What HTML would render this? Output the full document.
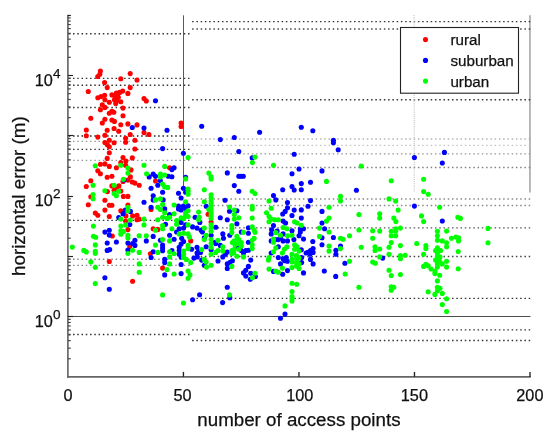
<!DOCTYPE html>
<html><head><meta charset="utf-8"><title>horizontal error vs number of access points</title>
<style>html,body{margin:0;padding:0;background:#fff}svg{display:block}text{font-family:"Liberation Sans",Arial,sans-serif;fill:#111;stroke:#111;stroke-width:0.25px}</style></head><body>
<svg width="550" height="438" viewBox="0 0 550 438">
<rect width="550" height="438" fill="#fff"/>
<line x1="529.95" y1="15.2" x2="529.95" y2="192.5" stroke="#b0b0b0" stroke-width="1.8"/>
<g>
<line x1="68.75" y1="33.7" x2="189.7" y2="33.7" stroke="#333" stroke-width="1.35" stroke-dasharray="1.5 2.76"/>
<line x1="68.75" y1="78.4" x2="189.7" y2="78.4" stroke="#333" stroke-width="1.35" stroke-dasharray="1.5 2.76"/>
<line x1="68.75" y1="85.2" x2="189.7" y2="85.2" stroke="#333" stroke-width="1.35" stroke-dasharray="1.5 2.76"/>
<line x1="68.75" y1="107.5" x2="189.7" y2="107.5" stroke="#333" stroke-width="1.35" stroke-dasharray="1.5 2.76"/>
<line x1="68.75" y1="136.0" x2="189.7" y2="136.0" stroke="#222" stroke-width="1.35" stroke-dasharray="1.5 2.76"/>
<line x1="68.75" y1="141.3" x2="189.7" y2="141.3" stroke="#999" stroke-width="1.35" stroke-dasharray="1.5 2.76"/>
<line x1="68.75" y1="149.4" x2="189.7" y2="149.4" stroke="#333" stroke-width="1.35" stroke-dasharray="1.5 2.76"/>
<line x1="68.75" y1="160.3" x2="189.7" y2="160.3" stroke="#999" stroke-width="1.35" stroke-dasharray="1.5 2.76"/>
<line x1="68.75" y1="220.4" x2="189.7" y2="220.4" stroke="#333" stroke-width="1.35" stroke-dasharray="1.5 2.76"/>
<line x1="68.75" y1="259.2" x2="189.7" y2="259.2" stroke="#858585" stroke-width="1.35" stroke-dasharray="1.5 2.76"/>
<line x1="68.75" y1="265.4" x2="189.7" y2="265.4" stroke="#858585" stroke-width="1.35" stroke-dasharray="1.5 2.76"/>
<line x1="68.75" y1="334.5" x2="189.7" y2="334.5" stroke="#333" stroke-width="1.35" stroke-dasharray="1.5 2.76"/>
<line x1="192.15" y1="21.6" x2="530.8" y2="21.6" stroke="#333" stroke-width="1.35" stroke-dasharray="1.5 2.76"/>
<line x1="192.15" y1="29.0" x2="530.8" y2="29.0" stroke="#444" stroke-width="1.35" stroke-dasharray="1.5 2.76"/>
<line x1="192.15" y1="99.7" x2="530.8" y2="99.7" stroke="#333" stroke-width="1.35" stroke-dasharray="1.5 2.76"/>
<line x1="192.15" y1="139.0" x2="530.8" y2="139.0" stroke="#b4b4b4" stroke-width="1.35" stroke-dasharray="1.5 2.76"/>
<line x1="192.15" y1="145.3" x2="530.8" y2="145.3" stroke="#c4c4c4" stroke-width="1.35" stroke-dasharray="1.5 2.76"/>
<line x1="192.15" y1="153.9" x2="530.8" y2="153.9" stroke="#949494" stroke-width="1.35" stroke-dasharray="1.5 2.76"/>
<line x1="192.15" y1="167.5" x2="530.8" y2="167.5" stroke="#808080" stroke-width="1.35" stroke-dasharray="1.5 2.76"/>
<line x1="192.15" y1="199.0" x2="530.8" y2="199.0" stroke="#888" stroke-width="1.35" stroke-dasharray="1.5 2.76"/>
<line x1="192.15" y1="205.5" x2="530.8" y2="205.5" stroke="#888" stroke-width="1.35" stroke-dasharray="1.5 2.76"/>
<line x1="192.15" y1="227.8" x2="530.8" y2="227.8" stroke="#555" stroke-width="1.35" stroke-dasharray="1.5 2.76"/>
<line x1="192.15" y1="256.5" x2="530.8" y2="256.5" stroke="#444" stroke-width="1.35" stroke-dasharray="1.5 2.76"/>
<line x1="192.15" y1="298.4" x2="530.8" y2="298.4" stroke="#333" stroke-width="1.35" stroke-dasharray="1.5 2.76"/>
<line x1="192.15" y1="329.8" x2="530.8" y2="329.8" stroke="#333" stroke-width="1.35" stroke-dasharray="1.5 2.76"/>
<line x1="192.15" y1="340.5" x2="530.8" y2="340.5" stroke="#333" stroke-width="1.35" stroke-dasharray="1.5 2.76"/>
</g>
<line x1="183.5" y1="15.3" x2="183.5" y2="186" stroke="#525252" stroke-width="0.95"/>
<line x1="414.2" y1="15" x2="414.2" y2="192" stroke="#c4c4c4" stroke-width="1.1" stroke-dasharray="1.1 1"/>
<line x1="67.9" y1="316.5" x2="530.5" y2="316.5" stroke="#4c4c4c" stroke-width="1.15"/>
<g fill="#ff0000">
<circle cx="100.4" cy="71.0" r="2.55"/>
<circle cx="99.8" cy="74.2" r="2.55"/>
<circle cx="97.8" cy="76.5" r="2.55"/>
<circle cx="130.2" cy="73.6" r="2.55"/>
<circle cx="120.8" cy="78.7" r="2.55"/>
<circle cx="104.6" cy="82.5" r="2.55"/>
<circle cx="107.2" cy="87.6" r="2.55"/>
<circle cx="130.2" cy="87.6" r="2.55"/>
<circle cx="88.3" cy="91.5" r="2.55"/>
<circle cx="127.9" cy="93.4" r="2.55"/>
<circle cx="122.7" cy="91.1" r="2.55"/>
<circle cx="119.6" cy="92.4" r="2.55"/>
<circle cx="116.4" cy="93.1" r="2.55"/>
<circle cx="111.9" cy="94.9" r="2.55"/>
<circle cx="115.1" cy="96.6" r="2.55"/>
<circle cx="118.3" cy="97.2" r="2.55"/>
<circle cx="104.6" cy="95.3" r="2.55"/>
<circle cx="101.0" cy="96.6" r="2.55"/>
<circle cx="97.8" cy="97.8" r="2.55"/>
<circle cx="104.9" cy="99.8" r="2.55"/>
<circle cx="114.4" cy="99.8" r="2.55"/>
<circle cx="120.8" cy="101.7" r="2.55"/>
<circle cx="109.3" cy="102.3" r="2.55"/>
<circle cx="115.7" cy="103.6" r="2.55"/>
<circle cx="117.6" cy="94.7" r="2.55"/>
<circle cx="117.0" cy="100.4" r="2.55"/>
<circle cx="102.3" cy="104.9" r="2.55"/>
<circle cx="104.9" cy="107.4" r="2.55"/>
<circle cx="123.0" cy="108.1" r="2.55"/>
<circle cx="100.4" cy="109.7" r="2.55"/>
<circle cx="111.9" cy="111.3" r="2.55"/>
<circle cx="109.3" cy="113.2" r="2.55"/>
<circle cx="113.8" cy="112.3" r="2.55"/>
<circle cx="123.0" cy="115.7" r="2.55"/>
<circle cx="90.8" cy="118.3" r="2.55"/>
<circle cx="104.9" cy="119.2" r="2.55"/>
<circle cx="111.9" cy="120.1" r="2.55"/>
<circle cx="114.4" cy="121.4" r="2.55"/>
<circle cx="102.3" cy="123.0" r="2.55"/>
<circle cx="120.8" cy="124.7" r="2.55"/>
<circle cx="127.9" cy="123.9" r="2.55"/>
<circle cx="86.3" cy="130.0" r="2.55"/>
<circle cx="107.2" cy="130.3" r="2.55"/>
<circle cx="114.1" cy="128.5" r="2.55"/>
<circle cx="118.7" cy="131.3" r="2.55"/>
<circle cx="86.3" cy="135.8" r="2.55"/>
<circle cx="97.8" cy="137.1" r="2.55"/>
<circle cx="104.9" cy="135.2" r="2.55"/>
<circle cx="130.2" cy="134.5" r="2.55"/>
<circle cx="125.6" cy="138.3" r="2.55"/>
<circle cx="109.3" cy="140.3" r="2.55"/>
<circle cx="104.9" cy="142.6" r="2.55"/>
<circle cx="114.1" cy="142.8" r="2.55"/>
<circle cx="125.6" cy="142.2" r="2.55"/>
<circle cx="107.4" cy="144.7" r="2.55"/>
<circle cx="109.3" cy="146.7" r="2.55"/>
<circle cx="134.9" cy="140.3" r="2.55"/>
<circle cx="134.9" cy="149.0" r="2.55"/>
<circle cx="109.3" cy="152.8" r="2.55"/>
<circle cx="107.2" cy="158.4" r="2.55"/>
<circle cx="123.0" cy="157.5" r="2.55"/>
<circle cx="132.3" cy="157.9" r="2.55"/>
<circle cx="125.9" cy="161.0" r="2.55"/>
<circle cx="120.8" cy="162.6" r="2.55"/>
<circle cx="100.4" cy="164.3" r="2.55"/>
<circle cx="104.9" cy="163.9" r="2.55"/>
<circle cx="109.3" cy="166.4" r="2.55"/>
<circle cx="116.4" cy="167.7" r="2.55"/>
<circle cx="125.6" cy="165.2" r="2.55"/>
<circle cx="97.8" cy="170.8" r="2.55"/>
<circle cx="100.4" cy="173.7" r="2.55"/>
<circle cx="131.0" cy="169.9" r="2.55"/>
<circle cx="107.2" cy="177.2" r="2.55"/>
<circle cx="111.9" cy="176.3" r="2.55"/>
<circle cx="130.4" cy="176.9" r="2.55"/>
<circle cx="123.0" cy="181.4" r="2.55"/>
<circle cx="127.9" cy="180.1" r="2.55"/>
<circle cx="132.3" cy="182.0" r="2.55"/>
<circle cx="90.8" cy="180.8" r="2.55"/>
<circle cx="86.3" cy="186.5" r="2.55"/>
<circle cx="111.9" cy="185.9" r="2.55"/>
<circle cx="118.9" cy="185.9" r="2.55"/>
<circle cx="116.4" cy="188.4" r="2.55"/>
<circle cx="107.4" cy="191.6" r="2.55"/>
<circle cx="114.1" cy="190.3" r="2.55"/>
<circle cx="120.8" cy="191.0" r="2.55"/>
<circle cx="90.8" cy="196.7" r="2.55"/>
<circle cx="123.4" cy="196.4" r="2.55"/>
<circle cx="127.9" cy="196.4" r="2.55"/>
<circle cx="104.9" cy="200.2" r="2.55"/>
<circle cx="88.3" cy="204.8" r="2.55"/>
<circle cx="109.3" cy="205.3" r="2.55"/>
<circle cx="111.9" cy="205.3" r="2.55"/>
<circle cx="127.9" cy="205.0" r="2.55"/>
<circle cx="104.9" cy="210.1" r="2.55"/>
<circle cx="120.8" cy="210.8" r="2.55"/>
<circle cx="95.3" cy="213.0" r="2.55"/>
<circle cx="97.8" cy="215.3" r="2.55"/>
<circle cx="109.3" cy="216.5" r="2.55"/>
<circle cx="125.9" cy="215.9" r="2.55"/>
<circle cx="132.6" cy="215.9" r="2.55"/>
<circle cx="125.6" cy="221.0" r="2.55"/>
<circle cx="127.9" cy="229.6" r="2.55"/>
<circle cx="112.3" cy="236.0" r="2.55"/>
<circle cx="129.8" cy="246.6" r="2.55"/>
<circle cx="109.3" cy="261.5" r="2.55"/>
<circle cx="132.6" cy="281.2" r="2.55"/>
<circle cx="137.0" cy="80.0" r="2.55"/>
<circle cx="144.0" cy="98.5" r="2.55"/>
<circle cx="146.3" cy="101.0" r="2.55"/>
<circle cx="137.0" cy="124.9" r="2.55"/>
<circle cx="144.0" cy="132.6" r="2.55"/>
<circle cx="148.9" cy="134.5" r="2.55"/>
<circle cx="181.1" cy="123.0" r="2.55"/>
<circle cx="181.1" cy="126.5" r="2.55"/>
<circle cx="169.6" cy="167.7" r="2.55"/>
<circle cx="134.9" cy="183.1" r="2.55"/>
<circle cx="139.2" cy="185.2" r="2.55"/>
<circle cx="155.5" cy="181.0" r="2.55"/>
<circle cx="151.1" cy="209.5" r="2.55"/>
<circle cx="137.0" cy="215.3" r="2.55"/>
<circle cx="139.2" cy="219.1" r="2.55"/>
<circle cx="137.0" cy="219.7" r="2.55"/>
<circle cx="153.2" cy="228.8" r="2.55"/>
<circle cx="157.8" cy="229.4" r="2.55"/>
<circle cx="190.7" cy="240.9" r="2.55"/>
<circle cx="150.4" cy="253.7" r="2.55"/>
<circle cx="162.6" cy="268.1" r="2.55"/>
<circle cx="208.1" cy="214.2" r="2.55"/>
<circle cx="211.1" cy="222.1" r="2.55"/>
</g>
<g fill="#0000ff">
<circle cx="132.3" cy="127.5" r="2.55"/>
<circle cx="124.0" cy="180.1" r="2.55"/>
<circle cx="125.3" cy="210.1" r="2.55"/>
<circle cx="130.4" cy="211.4" r="2.55"/>
<circle cx="123.0" cy="213.7" r="2.55"/>
<circle cx="118.7" cy="217.6" r="2.55"/>
<circle cx="129.8" cy="224.5" r="2.55"/>
<circle cx="109.3" cy="230.2" r="2.55"/>
<circle cx="104.9" cy="232.1" r="2.55"/>
<circle cx="109.3" cy="235.1" r="2.55"/>
<circle cx="107.2" cy="243.0" r="2.55"/>
<circle cx="116.4" cy="242.0" r="2.55"/>
<circle cx="127.9" cy="243.0" r="2.55"/>
<circle cx="134.9" cy="240.3" r="2.55"/>
<circle cx="132.6" cy="243.5" r="2.55"/>
<circle cx="107.2" cy="250.4" r="2.55"/>
<circle cx="109.7" cy="249.6" r="2.55"/>
<circle cx="127.9" cy="250.0" r="2.55"/>
<circle cx="104.9" cy="277.7" r="2.55"/>
<circle cx="109.3" cy="289.2" r="2.55"/>
<circle cx="155.5" cy="100.8" r="2.55"/>
<circle cx="144.0" cy="128.1" r="2.55"/>
<circle cx="167.0" cy="130.3" r="2.55"/>
<circle cx="162.6" cy="148.6" r="2.55"/>
<circle cx="183.4" cy="153.3" r="2.55"/>
<circle cx="174.1" cy="167.7" r="2.55"/>
<circle cx="171.9" cy="169.6" r="2.55"/>
<circle cx="153.2" cy="174.1" r="2.55"/>
<circle cx="149.2" cy="176.9" r="2.55"/>
<circle cx="155.5" cy="176.3" r="2.55"/>
<circle cx="168.3" cy="176.3" r="2.55"/>
<circle cx="171.9" cy="176.7" r="2.55"/>
<circle cx="185.6" cy="177.2" r="2.55"/>
<circle cx="160.4" cy="180.8" r="2.55"/>
<circle cx="157.8" cy="185.2" r="2.55"/>
<circle cx="151.1" cy="188.2" r="2.55"/>
<circle cx="183.4" cy="188.2" r="2.55"/>
<circle cx="185.6" cy="192.3" r="2.55"/>
<circle cx="162.6" cy="192.3" r="2.55"/>
<circle cx="178.5" cy="193.3" r="2.55"/>
<circle cx="181.1" cy="198.0" r="2.55"/>
<circle cx="153.2" cy="195.8" r="2.55"/>
<circle cx="153.2" cy="199.9" r="2.55"/>
<circle cx="163.2" cy="199.9" r="2.55"/>
<circle cx="144.0" cy="202.2" r="2.55"/>
<circle cx="178.5" cy="206.1" r="2.55"/>
<circle cx="183.4" cy="206.1" r="2.55"/>
<circle cx="188.1" cy="205.7" r="2.55"/>
<circle cx="151.1" cy="207.3" r="2.55"/>
<circle cx="164.7" cy="208.9" r="2.55"/>
<circle cx="178.5" cy="208.9" r="2.55"/>
<circle cx="181.1" cy="209.9" r="2.55"/>
<circle cx="185.6" cy="208.9" r="2.55"/>
<circle cx="169.6" cy="214.6" r="2.55"/>
<circle cx="195.1" cy="217.2" r="2.55"/>
<circle cx="165.5" cy="224.3" r="2.55"/>
<circle cx="181.1" cy="222.4" r="2.55"/>
<circle cx="185.6" cy="224.9" r="2.55"/>
<circle cx="192.6" cy="226.9" r="2.55"/>
<circle cx="197.0" cy="228.1" r="2.55"/>
<circle cx="179.2" cy="228.8" r="2.55"/>
<circle cx="183.6" cy="228.1" r="2.55"/>
<circle cx="176.6" cy="232.0" r="2.55"/>
<circle cx="153.2" cy="236.4" r="2.55"/>
<circle cx="146.3" cy="240.9" r="2.55"/>
<circle cx="169.6" cy="235.2" r="2.55"/>
<circle cx="174.1" cy="239.2" r="2.55"/>
<circle cx="160.4" cy="240.3" r="2.55"/>
<circle cx="134.9" cy="245.4" r="2.55"/>
<circle cx="162.6" cy="245.1" r="2.55"/>
<circle cx="162.6" cy="247.9" r="2.55"/>
<circle cx="162.6" cy="250.7" r="2.55"/>
<circle cx="153.2" cy="251.8" r="2.55"/>
<circle cx="151.1" cy="257.5" r="2.55"/>
<circle cx="171.9" cy="250.5" r="2.55"/>
<circle cx="164.7" cy="259.4" r="2.55"/>
<circle cx="164.7" cy="262.6" r="2.55"/>
<circle cx="181.7" cy="238.3" r="2.55"/>
<circle cx="183.6" cy="241.5" r="2.55"/>
<circle cx="181.1" cy="244.1" r="2.55"/>
<circle cx="179.2" cy="247.3" r="2.55"/>
<circle cx="179.2" cy="250.5" r="2.55"/>
<circle cx="179.2" cy="254.3" r="2.55"/>
<circle cx="181.1" cy="256.9" r="2.55"/>
<circle cx="181.1" cy="264.5" r="2.55"/>
<circle cx="191.6" cy="249.2" r="2.55"/>
<circle cx="193.9" cy="258.1" r="2.55"/>
<circle cx="197.0" cy="247.3" r="2.55"/>
<circle cx="197.0" cy="253.0" r="2.55"/>
<circle cx="197.3" cy="256.9" r="2.55"/>
<circle cx="164.7" cy="274.9" r="2.55"/>
<circle cx="181.1" cy="273.6" r="2.55"/>
<circle cx="192.6" cy="299.8" r="2.55"/>
<circle cx="199.6" cy="294.7" r="2.55"/>
<circle cx="201.7" cy="126.2" r="2.55"/>
<circle cx="220.3" cy="139.6" r="2.55"/>
<circle cx="234.3" cy="137.5" r="2.55"/>
<circle cx="259.6" cy="132.3" r="2.55"/>
<circle cx="238.8" cy="151.5" r="2.55"/>
<circle cx="252.2" cy="157.9" r="2.55"/>
<circle cx="227.3" cy="172.9" r="2.55"/>
<circle cx="238.8" cy="176.3" r="2.55"/>
<circle cx="241.0" cy="176.3" r="2.55"/>
<circle cx="243.3" cy="176.3" r="2.55"/>
<circle cx="234.3" cy="185.6" r="2.55"/>
<circle cx="238.8" cy="191.2" r="2.55"/>
<circle cx="225.1" cy="200.2" r="2.55"/>
<circle cx="206.2" cy="206.3" r="2.55"/>
<circle cx="229.5" cy="211.2" r="2.55"/>
<circle cx="236.9" cy="210.8" r="2.55"/>
<circle cx="220.3" cy="217.8" r="2.55"/>
<circle cx="227.3" cy="219.7" r="2.55"/>
<circle cx="199.8" cy="222.4" r="2.55"/>
<circle cx="211.1" cy="235.2" r="2.55"/>
<circle cx="211.1" cy="249.8" r="2.55"/>
<circle cx="236.9" cy="223.7" r="2.55"/>
<circle cx="229.8" cy="235.2" r="2.55"/>
<circle cx="215.8" cy="227.2" r="2.55"/>
<circle cx="202.4" cy="232.0" r="2.55"/>
<circle cx="204.3" cy="237.7" r="2.55"/>
<circle cx="222.8" cy="233.9" r="2.55"/>
<circle cx="223.5" cy="238.3" r="2.55"/>
<circle cx="215.8" cy="243.5" r="2.55"/>
<circle cx="206.2" cy="246.7" r="2.55"/>
<circle cx="198.6" cy="251.1" r="2.55"/>
<circle cx="201.7" cy="260.1" r="2.55"/>
<circle cx="204.3" cy="265.2" r="2.55"/>
<circle cx="218.0" cy="261.0" r="2.55"/>
<circle cx="222.8" cy="256.9" r="2.55"/>
<circle cx="227.3" cy="252.0" r="2.55"/>
<circle cx="243.5" cy="253.0" r="2.55"/>
<circle cx="241.3" cy="250.5" r="2.55"/>
<circle cx="245.8" cy="250.5" r="2.55"/>
<circle cx="248.4" cy="250.2" r="2.55"/>
<circle cx="236.9" cy="246.7" r="2.55"/>
<circle cx="241.3" cy="232.0" r="2.55"/>
<circle cx="248.4" cy="227.7" r="2.55"/>
<circle cx="248.4" cy="233.2" r="2.55"/>
<circle cx="248.4" cy="242.2" r="2.55"/>
<circle cx="250.7" cy="260.1" r="2.55"/>
<circle cx="232.4" cy="260.7" r="2.55"/>
<circle cx="229.8" cy="262.6" r="2.55"/>
<circle cx="227.3" cy="263.9" r="2.55"/>
<circle cx="227.3" cy="268.4" r="2.55"/>
<circle cx="248.4" cy="266.4" r="2.55"/>
<circle cx="245.8" cy="270.3" r="2.55"/>
<circle cx="201.1" cy="230.3" r="2.55"/>
<circle cx="215.2" cy="242.2" r="2.55"/>
<circle cx="220.3" cy="245.4" r="2.55"/>
<circle cx="200.5" cy="252.4" r="2.55"/>
<circle cx="225.4" cy="254.3" r="2.55"/>
<circle cx="243.5" cy="272.9" r="2.55"/>
<circle cx="245.8" cy="276.1" r="2.55"/>
<circle cx="250.7" cy="273.2" r="2.55"/>
<circle cx="255.4" cy="276.5" r="2.55"/>
<circle cx="250.3" cy="279.3" r="2.55"/>
<circle cx="227.3" cy="287.2" r="2.55"/>
<circle cx="229.8" cy="297.8" r="2.55"/>
<circle cx="222.6" cy="302.6" r="2.55"/>
<circle cx="301.3" cy="127.2" r="2.55"/>
<circle cx="312.8" cy="130.7" r="2.55"/>
<circle cx="333.4" cy="140.3" r="2.55"/>
<circle cx="294.2" cy="154.3" r="2.55"/>
<circle cx="299.0" cy="169.0" r="2.55"/>
<circle cx="322.0" cy="170.9" r="2.55"/>
<circle cx="292.0" cy="173.7" r="2.55"/>
<circle cx="310.5" cy="182.3" r="2.55"/>
<circle cx="301.3" cy="183.6" r="2.55"/>
<circle cx="292.0" cy="186.5" r="2.55"/>
<circle cx="294.2" cy="190.0" r="2.55"/>
<circle cx="301.3" cy="189.7" r="2.55"/>
<circle cx="282.7" cy="189.7" r="2.55"/>
<circle cx="273.5" cy="195.5" r="2.55"/>
<circle cx="275.8" cy="199.9" r="2.55"/>
<circle cx="310.5" cy="200.6" r="2.55"/>
<circle cx="287.5" cy="202.5" r="2.55"/>
<circle cx="308.0" cy="206.3" r="2.55"/>
<circle cx="287.5" cy="207.8" r="2.55"/>
<circle cx="294.2" cy="210.1" r="2.55"/>
<circle cx="301.3" cy="209.9" r="2.55"/>
<circle cx="285.2" cy="211.4" r="2.55"/>
<circle cx="282.7" cy="214.0" r="2.55"/>
<circle cx="322.0" cy="211.4" r="2.55"/>
<circle cx="292.0" cy="215.5" r="2.55"/>
<circle cx="301.3" cy="218.1" r="2.55"/>
<circle cx="283.1" cy="221.1" r="2.55"/>
<circle cx="285.6" cy="223.0" r="2.55"/>
<circle cx="273.5" cy="225.6" r="2.55"/>
<circle cx="292.0" cy="230.7" r="2.55"/>
<circle cx="303.5" cy="228.8" r="2.55"/>
<circle cx="300.3" cy="232.0" r="2.55"/>
<circle cx="271.2" cy="233.9" r="2.55"/>
<circle cx="283.1" cy="233.9" r="2.55"/>
<circle cx="299.0" cy="235.8" r="2.55"/>
<circle cx="303.5" cy="239.0" r="2.55"/>
<circle cx="271.2" cy="240.9" r="2.55"/>
<circle cx="278.3" cy="239.6" r="2.55"/>
<circle cx="283.1" cy="240.9" r="2.55"/>
<circle cx="287.5" cy="240.9" r="2.55"/>
<circle cx="293.9" cy="239.6" r="2.55"/>
<circle cx="278.3" cy="246.7" r="2.55"/>
<circle cx="301.3" cy="249.8" r="2.55"/>
<circle cx="271.2" cy="253.0" r="2.55"/>
<circle cx="278.3" cy="257.5" r="2.55"/>
<circle cx="283.1" cy="258.8" r="2.55"/>
<circle cx="286.3" cy="257.5" r="2.55"/>
<circle cx="287.5" cy="261.3" r="2.55"/>
<circle cx="301.6" cy="257.5" r="2.55"/>
<circle cx="301.6" cy="262.6" r="2.55"/>
<circle cx="280.5" cy="263.9" r="2.55"/>
<circle cx="306.1" cy="253.0" r="2.55"/>
<circle cx="310.5" cy="250.5" r="2.55"/>
<circle cx="313.1" cy="248.6" r="2.55"/>
<circle cx="313.1" cy="252.4" r="2.55"/>
<circle cx="310.5" cy="259.4" r="2.55"/>
<circle cx="313.1" cy="263.9" r="2.55"/>
<circle cx="312.8" cy="241.5" r="2.55"/>
<circle cx="322.0" cy="223.0" r="2.55"/>
<circle cx="324.6" cy="228.8" r="2.55"/>
<circle cx="322.0" cy="237.7" r="2.55"/>
<circle cx="322.0" cy="244.7" r="2.55"/>
<circle cx="333.4" cy="237.5" r="2.55"/>
<circle cx="271.6" cy="229.8" r="2.55"/>
<circle cx="277.1" cy="231.1" r="2.55"/>
<circle cx="280.5" cy="238.0" r="2.55"/>
<circle cx="275.4" cy="239.6" r="2.55"/>
<circle cx="284.7" cy="260.7" r="2.55"/>
<circle cx="300.3" cy="228.8" r="2.55"/>
<circle cx="308.0" cy="252.4" r="2.55"/>
<circle cx="309.9" cy="254.3" r="2.55"/>
<circle cx="273.5" cy="271.4" r="2.55"/>
<circle cx="282.7" cy="274.2" r="2.55"/>
<circle cx="287.5" cy="270.6" r="2.55"/>
<circle cx="303.5" cy="272.9" r="2.55"/>
<circle cx="324.3" cy="271.0" r="2.55"/>
<circle cx="285.0" cy="314.1" r="2.55"/>
<circle cx="280.5" cy="318.3" r="2.55"/>
<circle cx="333.4" cy="142.8" r="2.55"/>
<circle cx="338.2" cy="149.8" r="2.55"/>
<circle cx="356.4" cy="190.3" r="2.55"/>
<circle cx="340.5" cy="246.0" r="2.55"/>
<circle cx="335.9" cy="250.2" r="2.55"/>
<circle cx="335.9" cy="254.3" r="2.55"/>
<circle cx="382.7" cy="258.1" r="2.55"/>
<circle cx="344.9" cy="263.3" r="2.55"/>
<circle cx="335.7" cy="276.4" r="2.55"/>
<circle cx="414.4" cy="157.5" r="2.55"/>
<circle cx="444.4" cy="152.4" r="2.55"/>
<circle cx="442.3" cy="163.0" r="2.55"/>
<circle cx="414.4" cy="206.1" r="2.55"/>
<circle cx="442.3" cy="221.0" r="2.55"/>
</g>
<g fill="#00ff00">
<circle cx="95.3" cy="165.8" r="2.55"/>
<circle cx="120.8" cy="165.2" r="2.55"/>
<circle cx="127.9" cy="168.1" r="2.55"/>
<circle cx="127.9" cy="173.1" r="2.55"/>
<circle cx="123.4" cy="179.2" r="2.55"/>
<circle cx="93.1" cy="185.2" r="2.55"/>
<circle cx="114.1" cy="185.2" r="2.55"/>
<circle cx="104.9" cy="190.7" r="2.55"/>
<circle cx="118.7" cy="191.2" r="2.55"/>
<circle cx="114.1" cy="193.5" r="2.55"/>
<circle cx="116.4" cy="195.8" r="2.55"/>
<circle cx="93.1" cy="194.6" r="2.55"/>
<circle cx="93.1" cy="198.7" r="2.55"/>
<circle cx="127.9" cy="207.3" r="2.55"/>
<circle cx="127.9" cy="210.8" r="2.55"/>
<circle cx="120.8" cy="219.1" r="2.55"/>
<circle cx="130.2" cy="220.1" r="2.55"/>
<circle cx="93.4" cy="226.1" r="2.55"/>
<circle cx="120.8" cy="226.1" r="2.55"/>
<circle cx="125.6" cy="224.9" r="2.55"/>
<circle cx="120.8" cy="230.9" r="2.55"/>
<circle cx="123.4" cy="231.5" r="2.55"/>
<circle cx="120.8" cy="234.3" r="2.55"/>
<circle cx="93.4" cy="236.3" r="2.55"/>
<circle cx="95.7" cy="237.2" r="2.55"/>
<circle cx="127.9" cy="235.3" r="2.55"/>
<circle cx="127.9" cy="237.9" r="2.55"/>
<circle cx="95.3" cy="244.9" r="2.55"/>
<circle cx="72.3" cy="247.1" r="2.55"/>
<circle cx="83.8" cy="250.4" r="2.55"/>
<circle cx="86.3" cy="251.9" r="2.55"/>
<circle cx="95.3" cy="251.3" r="2.55"/>
<circle cx="95.3" cy="253.5" r="2.55"/>
<circle cx="132.6" cy="250.2" r="2.55"/>
<circle cx="127.9" cy="253.5" r="2.55"/>
<circle cx="90.8" cy="261.9" r="2.55"/>
<circle cx="95.3" cy="267.3" r="2.55"/>
<circle cx="95.3" cy="283.5" r="2.55"/>
<circle cx="188.1" cy="157.5" r="2.55"/>
<circle cx="144.0" cy="165.2" r="2.55"/>
<circle cx="164.7" cy="166.4" r="2.55"/>
<circle cx="146.6" cy="173.7" r="2.55"/>
<circle cx="160.4" cy="174.1" r="2.55"/>
<circle cx="160.4" cy="176.9" r="2.55"/>
<circle cx="164.7" cy="175.0" r="2.55"/>
<circle cx="185.6" cy="178.9" r="2.55"/>
<circle cx="162.6" cy="184.0" r="2.55"/>
<circle cx="164.7" cy="186.9" r="2.55"/>
<circle cx="167.7" cy="187.4" r="2.55"/>
<circle cx="188.1" cy="189.1" r="2.55"/>
<circle cx="188.1" cy="191.6" r="2.55"/>
<circle cx="188.1" cy="194.2" r="2.55"/>
<circle cx="155.5" cy="199.9" r="2.55"/>
<circle cx="160.4" cy="198.9" r="2.55"/>
<circle cx="185.6" cy="201.8" r="2.55"/>
<circle cx="162.6" cy="204.4" r="2.55"/>
<circle cx="174.1" cy="205.0" r="2.55"/>
<circle cx="157.8" cy="207.3" r="2.55"/>
<circle cx="160.4" cy="209.5" r="2.55"/>
<circle cx="188.1" cy="210.8" r="2.55"/>
<circle cx="164.7" cy="212.7" r="2.55"/>
<circle cx="174.1" cy="213.7" r="2.55"/>
<circle cx="185.6" cy="212.7" r="2.55"/>
<circle cx="185.6" cy="215.3" r="2.55"/>
<circle cx="144.0" cy="219.1" r="2.55"/>
<circle cx="162.6" cy="217.2" r="2.55"/>
<circle cx="169.6" cy="217.2" r="2.55"/>
<circle cx="167.0" cy="218.4" r="2.55"/>
<circle cx="181.1" cy="217.8" r="2.55"/>
<circle cx="188.1" cy="216.5" r="2.55"/>
<circle cx="198.6" cy="212.1" r="2.55"/>
<circle cx="199.2" cy="217.2" r="2.55"/>
<circle cx="157.8" cy="219.8" r="2.55"/>
<circle cx="144.0" cy="224.9" r="2.55"/>
<circle cx="162.6" cy="225.6" r="2.55"/>
<circle cx="162.6" cy="228.8" r="2.55"/>
<circle cx="155.5" cy="230.3" r="2.55"/>
<circle cx="171.9" cy="228.8" r="2.55"/>
<circle cx="176.6" cy="220.5" r="2.55"/>
<circle cx="176.6" cy="224.3" r="2.55"/>
<circle cx="183.6" cy="218.6" r="2.55"/>
<circle cx="188.1" cy="224.9" r="2.55"/>
<circle cx="198.6" cy="219.8" r="2.55"/>
<circle cx="179.2" cy="233.9" r="2.55"/>
<circle cx="183.6" cy="233.2" r="2.55"/>
<circle cx="188.1" cy="233.9" r="2.55"/>
<circle cx="189.4" cy="237.1" r="2.55"/>
<circle cx="139.2" cy="235.8" r="2.55"/>
<circle cx="146.3" cy="235.8" r="2.55"/>
<circle cx="169.6" cy="240.9" r="2.55"/>
<circle cx="162.6" cy="239.6" r="2.55"/>
<circle cx="155.5" cy="245.1" r="2.55"/>
<circle cx="139.2" cy="252.4" r="2.55"/>
<circle cx="157.8" cy="252.4" r="2.55"/>
<circle cx="169.6" cy="251.8" r="2.55"/>
<circle cx="174.1" cy="253.7" r="2.55"/>
<circle cx="169.6" cy="256.9" r="2.55"/>
<circle cx="169.6" cy="263.9" r="2.55"/>
<circle cx="188.1" cy="245.4" r="2.55"/>
<circle cx="188.1" cy="248.6" r="2.55"/>
<circle cx="183.6" cy="251.1" r="2.55"/>
<circle cx="183.6" cy="254.3" r="2.55"/>
<circle cx="183.6" cy="257.5" r="2.55"/>
<circle cx="186.2" cy="259.4" r="2.55"/>
<circle cx="190.7" cy="262.6" r="2.55"/>
<circle cx="139.2" cy="263.9" r="2.55"/>
<circle cx="167.0" cy="269.6" r="2.55"/>
<circle cx="139.2" cy="272.3" r="2.55"/>
<circle cx="174.1" cy="274.0" r="2.55"/>
<circle cx="188.1" cy="271.0" r="2.55"/>
<circle cx="190.0" cy="274.9" r="2.55"/>
<circle cx="188.1" cy="278.3" r="2.55"/>
<circle cx="162.6" cy="294.9" r="2.55"/>
<circle cx="183.4" cy="303.0" r="2.55"/>
<circle cx="255.0" cy="157.1" r="2.55"/>
<circle cx="252.4" cy="162.6" r="2.55"/>
<circle cx="208.8" cy="173.1" r="2.55"/>
<circle cx="211.1" cy="176.9" r="2.55"/>
<circle cx="211.1" cy="178.9" r="2.55"/>
<circle cx="252.2" cy="191.2" r="2.55"/>
<circle cx="255.0" cy="193.5" r="2.55"/>
<circle cx="204.3" cy="189.7" r="2.55"/>
<circle cx="211.1" cy="194.8" r="2.55"/>
<circle cx="211.1" cy="197.8" r="2.55"/>
<circle cx="211.1" cy="200.7" r="2.55"/>
<circle cx="211.1" cy="203.6" r="2.55"/>
<circle cx="211.1" cy="206.6" r="2.55"/>
<circle cx="211.1" cy="209.5" r="2.55"/>
<circle cx="211.1" cy="212.4" r="2.55"/>
<circle cx="211.1" cy="215.4" r="2.55"/>
<circle cx="211.1" cy="218.3" r="2.55"/>
<circle cx="204.3" cy="201.8" r="2.55"/>
<circle cx="208.8" cy="209.5" r="2.55"/>
<circle cx="229.5" cy="207.0" r="2.55"/>
<circle cx="234.3" cy="210.1" r="2.55"/>
<circle cx="234.3" cy="214.6" r="2.55"/>
<circle cx="252.2" cy="206.3" r="2.55"/>
<circle cx="252.2" cy="208.9" r="2.55"/>
<circle cx="266.5" cy="212.7" r="2.55"/>
<circle cx="234.3" cy="219.1" r="2.55"/>
<circle cx="238.8" cy="217.8" r="2.55"/>
<circle cx="252.2" cy="218.1" r="2.55"/>
<circle cx="211.1" cy="224.9" r="2.55"/>
<circle cx="211.1" cy="228.1" r="2.55"/>
<circle cx="211.1" cy="231.3" r="2.55"/>
<circle cx="211.1" cy="239.6" r="2.55"/>
<circle cx="211.1" cy="243.5" r="2.55"/>
<circle cx="211.1" cy="247.3" r="2.55"/>
<circle cx="211.1" cy="254.3" r="2.55"/>
<circle cx="231.8" cy="225.6" r="2.55"/>
<circle cx="231.8" cy="228.8" r="2.55"/>
<circle cx="231.8" cy="232.6" r="2.55"/>
<circle cx="204.3" cy="228.1" r="2.55"/>
<circle cx="206.2" cy="235.2" r="2.55"/>
<circle cx="204.3" cy="239.6" r="2.55"/>
<circle cx="218.0" cy="240.3" r="2.55"/>
<circle cx="222.8" cy="246.7" r="2.55"/>
<circle cx="218.0" cy="250.5" r="2.55"/>
<circle cx="215.8" cy="252.4" r="2.55"/>
<circle cx="222.8" cy="251.1" r="2.55"/>
<circle cx="201.7" cy="249.5" r="2.55"/>
<circle cx="204.3" cy="259.4" r="2.55"/>
<circle cx="206.2" cy="262.0" r="2.55"/>
<circle cx="206.5" cy="267.1" r="2.55"/>
<circle cx="211.1" cy="265.2" r="2.55"/>
<circle cx="231.8" cy="253.7" r="2.55"/>
<circle cx="231.8" cy="250.5" r="2.55"/>
<circle cx="234.3" cy="249.2" r="2.55"/>
<circle cx="236.9" cy="256.2" r="2.55"/>
<circle cx="243.5" cy="256.9" r="2.55"/>
<circle cx="232.4" cy="242.6" r="2.55"/>
<circle cx="234.3" cy="240.9" r="2.55"/>
<circle cx="236.9" cy="236.4" r="2.55"/>
<circle cx="238.8" cy="239.6" r="2.55"/>
<circle cx="241.3" cy="242.6" r="2.55"/>
<circle cx="241.3" cy="246.0" r="2.55"/>
<circle cx="238.8" cy="249.2" r="2.55"/>
<circle cx="243.5" cy="232.3" r="2.55"/>
<circle cx="252.2" cy="226.9" r="2.55"/>
<circle cx="254.1" cy="230.0" r="2.55"/>
<circle cx="255.0" cy="232.3" r="2.55"/>
<circle cx="254.1" cy="238.3" r="2.55"/>
<circle cx="252.2" cy="240.3" r="2.55"/>
<circle cx="252.2" cy="244.7" r="2.55"/>
<circle cx="252.2" cy="248.6" r="2.55"/>
<circle cx="231.8" cy="266.4" r="2.55"/>
<circle cx="235.0" cy="244.7" r="2.55"/>
<circle cx="238.1" cy="243.5" r="2.55"/>
<circle cx="233.7" cy="252.4" r="2.55"/>
<circle cx="255.0" cy="273.2" r="2.55"/>
<circle cx="252.4" cy="277.8" r="2.55"/>
<circle cx="229.5" cy="294.9" r="2.55"/>
<circle cx="273.5" cy="165.2" r="2.55"/>
<circle cx="326.5" cy="181.4" r="2.55"/>
<circle cx="269.0" cy="201.0" r="2.55"/>
<circle cx="271.2" cy="208.2" r="2.55"/>
<circle cx="329.0" cy="207.3" r="2.55"/>
<circle cx="329.0" cy="218.1" r="2.55"/>
<circle cx="269.0" cy="216.5" r="2.55"/>
<circle cx="271.2" cy="219.1" r="2.55"/>
<circle cx="274.8" cy="219.7" r="2.55"/>
<circle cx="278.3" cy="219.7" r="2.55"/>
<circle cx="269.0" cy="221.7" r="2.55"/>
<circle cx="294.6" cy="221.7" r="2.55"/>
<circle cx="297.1" cy="223.0" r="2.55"/>
<circle cx="301.3" cy="225.2" r="2.55"/>
<circle cx="283.1" cy="227.5" r="2.55"/>
<circle cx="286.9" cy="228.8" r="2.55"/>
<circle cx="275.8" cy="232.6" r="2.55"/>
<circle cx="280.5" cy="235.2" r="2.55"/>
<circle cx="287.5" cy="235.8" r="2.55"/>
<circle cx="292.0" cy="235.2" r="2.55"/>
<circle cx="273.5" cy="239.0" r="2.55"/>
<circle cx="273.5" cy="242.2" r="2.55"/>
<circle cx="294.6" cy="244.7" r="2.55"/>
<circle cx="297.1" cy="246.7" r="2.55"/>
<circle cx="275.8" cy="247.9" r="2.55"/>
<circle cx="286.9" cy="246.7" r="2.55"/>
<circle cx="284.3" cy="249.2" r="2.55"/>
<circle cx="294.6" cy="249.2" r="2.55"/>
<circle cx="299.0" cy="251.1" r="2.55"/>
<circle cx="273.5" cy="251.8" r="2.55"/>
<circle cx="282.4" cy="253.0" r="2.55"/>
<circle cx="292.0" cy="254.3" r="2.55"/>
<circle cx="296.5" cy="255.6" r="2.55"/>
<circle cx="269.0" cy="257.5" r="2.55"/>
<circle cx="268.4" cy="260.1" r="2.55"/>
<circle cx="292.0" cy="259.4" r="2.55"/>
<circle cx="296.5" cy="258.8" r="2.55"/>
<circle cx="299.0" cy="258.1" r="2.55"/>
<circle cx="292.0" cy="262.0" r="2.55"/>
<circle cx="296.5" cy="262.6" r="2.55"/>
<circle cx="299.0" cy="263.9" r="2.55"/>
<circle cx="326.5" cy="221.1" r="2.55"/>
<circle cx="319.5" cy="228.1" r="2.55"/>
<circle cx="329.0" cy="232.0" r="2.55"/>
<circle cx="319.5" cy="236.4" r="2.55"/>
<circle cx="329.0" cy="246.0" r="2.55"/>
<circle cx="329.0" cy="251.1" r="2.55"/>
<circle cx="269.0" cy="269.1" r="2.55"/>
<circle cx="275.8" cy="271.0" r="2.55"/>
<circle cx="278.3" cy="272.3" r="2.55"/>
<circle cx="282.4" cy="268.1" r="2.55"/>
<circle cx="292.0" cy="267.6" r="2.55"/>
<circle cx="296.5" cy="265.9" r="2.55"/>
<circle cx="299.0" cy="268.5" r="2.55"/>
<circle cx="292.0" cy="283.2" r="2.55"/>
<circle cx="296.7" cy="284.2" r="2.55"/>
<circle cx="292.0" cy="291.5" r="2.55"/>
<circle cx="292.0" cy="296.6" r="2.55"/>
<circle cx="292.0" cy="298.7" r="2.55"/>
<circle cx="292.0" cy="301.0" r="2.55"/>
<circle cx="285.0" cy="305.9" r="2.55"/>
<circle cx="361.2" cy="166.1" r="2.55"/>
<circle cx="391.2" cy="180.8" r="2.55"/>
<circle cx="340.5" cy="196.4" r="2.55"/>
<circle cx="340.5" cy="201.0" r="2.55"/>
<circle cx="389.0" cy="198.9" r="2.55"/>
<circle cx="395.7" cy="201.0" r="2.55"/>
<circle cx="398.1" cy="210.1" r="2.55"/>
<circle cx="358.9" cy="214.6" r="2.55"/>
<circle cx="379.7" cy="213.7" r="2.55"/>
<circle cx="379.7" cy="218.1" r="2.55"/>
<circle cx="393.8" cy="218.1" r="2.55"/>
<circle cx="395.9" cy="221.6" r="2.55"/>
<circle cx="358.9" cy="230.0" r="2.55"/>
<circle cx="372.7" cy="230.7" r="2.55"/>
<circle cx="379.7" cy="231.1" r="2.55"/>
<circle cx="391.2" cy="231.3" r="2.55"/>
<circle cx="395.7" cy="231.3" r="2.55"/>
<circle cx="391.2" cy="235.8" r="2.55"/>
<circle cx="395.7" cy="235.8" r="2.55"/>
<circle cx="340.5" cy="238.3" r="2.55"/>
<circle cx="343.1" cy="239.2" r="2.55"/>
<circle cx="349.5" cy="235.8" r="2.55"/>
<circle cx="372.7" cy="238.3" r="2.55"/>
<circle cx="391.2" cy="242.6" r="2.55"/>
<circle cx="340.5" cy="248.6" r="2.55"/>
<circle cx="361.2" cy="247.3" r="2.55"/>
<circle cx="375.0" cy="246.7" r="2.55"/>
<circle cx="379.7" cy="249.0" r="2.55"/>
<circle cx="375.0" cy="250.5" r="2.55"/>
<circle cx="389.0" cy="247.3" r="2.55"/>
<circle cx="389.0" cy="254.3" r="2.55"/>
<circle cx="379.7" cy="256.9" r="2.55"/>
<circle cx="349.5" cy="261.3" r="2.55"/>
<circle cx="372.7" cy="262.0" r="2.55"/>
<circle cx="375.3" cy="263.3" r="2.55"/>
<circle cx="389.0" cy="270.3" r="2.55"/>
<circle cx="345.2" cy="274.0" r="2.55"/>
<circle cx="358.9" cy="287.2" r="2.55"/>
<circle cx="391.2" cy="275.5" r="2.55"/>
<circle cx="391.2" cy="286.7" r="2.55"/>
<circle cx="393.8" cy="287.2" r="2.55"/>
<circle cx="391.2" cy="290.2" r="2.55"/>
<circle cx="423.6" cy="179.2" r="2.55"/>
<circle cx="423.6" cy="191.6" r="2.55"/>
<circle cx="428.2" cy="194.2" r="2.55"/>
<circle cx="439.7" cy="207.3" r="2.55"/>
<circle cx="421.5" cy="215.9" r="2.55"/>
<circle cx="423.6" cy="221.6" r="2.55"/>
<circle cx="457.9" cy="217.2" r="2.55"/>
<circle cx="460.4" cy="218.4" r="2.55"/>
<circle cx="395.9" cy="228.8" r="2.55"/>
<circle cx="400.4" cy="228.1" r="2.55"/>
<circle cx="437.4" cy="231.3" r="2.55"/>
<circle cx="446.6" cy="231.1" r="2.55"/>
<circle cx="437.4" cy="235.8" r="2.55"/>
<circle cx="437.4" cy="240.3" r="2.55"/>
<circle cx="442.3" cy="240.9" r="2.55"/>
<circle cx="446.6" cy="242.8" r="2.55"/>
<circle cx="446.6" cy="246.7" r="2.55"/>
<circle cx="451.5" cy="238.3" r="2.55"/>
<circle cx="455.9" cy="237.1" r="2.55"/>
<circle cx="458.5" cy="237.7" r="2.55"/>
<circle cx="458.5" cy="240.9" r="2.55"/>
<circle cx="400.4" cy="245.6" r="2.55"/>
<circle cx="416.7" cy="243.5" r="2.55"/>
<circle cx="425.9" cy="245.6" r="2.55"/>
<circle cx="425.9" cy="248.6" r="2.55"/>
<circle cx="423.6" cy="254.3" r="2.55"/>
<circle cx="400.4" cy="255.6" r="2.55"/>
<circle cx="405.2" cy="255.3" r="2.55"/>
<circle cx="400.4" cy="258.8" r="2.55"/>
<circle cx="458.2" cy="251.5" r="2.55"/>
<circle cx="437.4" cy="247.9" r="2.55"/>
<circle cx="435.5" cy="250.5" r="2.55"/>
<circle cx="440.6" cy="250.5" r="2.55"/>
<circle cx="437.4" cy="253.0" r="2.55"/>
<circle cx="437.4" cy="256.2" r="2.55"/>
<circle cx="440.0" cy="256.9" r="2.55"/>
<circle cx="435.5" cy="260.1" r="2.55"/>
<circle cx="439.3" cy="260.7" r="2.55"/>
<circle cx="437.4" cy="263.9" r="2.55"/>
<circle cx="442.3" cy="263.9" r="2.55"/>
<circle cx="446.6" cy="261.3" r="2.55"/>
<circle cx="446.6" cy="267.1" r="2.55"/>
<circle cx="437.4" cy="267.1" r="2.55"/>
<circle cx="425.9" cy="264.3" r="2.55"/>
<circle cx="423.6" cy="266.4" r="2.55"/>
<circle cx="428.2" cy="265.8" r="2.55"/>
<circle cx="431.0" cy="269.0" r="2.55"/>
<circle cx="434.9" cy="271.0" r="2.55"/>
<circle cx="458.2" cy="268.7" r="2.55"/>
<circle cx="400.4" cy="274.5" r="2.55"/>
<circle cx="434.9" cy="273.6" r="2.55"/>
<circle cx="439.7" cy="275.2" r="2.55"/>
<circle cx="437.4" cy="280.9" r="2.55"/>
<circle cx="437.4" cy="287.2" r="2.55"/>
<circle cx="440.0" cy="288.3" r="2.55"/>
<circle cx="437.4" cy="290.8" r="2.55"/>
<circle cx="428.2" cy="291.8" r="2.55"/>
<circle cx="434.9" cy="294.4" r="2.55"/>
<circle cx="442.3" cy="293.4" r="2.55"/>
<circle cx="446.6" cy="298.7" r="2.55"/>
<circle cx="442.3" cy="304.6" r="2.55"/>
<circle cx="446.6" cy="311.5" r="2.55"/>
<circle cx="488.0" cy="228.4" r="2.55"/>
<circle cx="488.0" cy="242.8" r="2.55"/>
</g>
<g stroke="#666" stroke-width="1.75" fill="none">
<line x1="67.9" y1="14.799999999999999" x2="67.9" y2="377.79999999999995" stroke-width="1.55" stroke="#5c5c5c"/>
<line x1="67.15" y1="376.9" x2="530.7" y2="376.9" stroke-width="1.9"/>
</g>
<g stroke="#222" stroke-width="1.15">
<line x1="67.9" y1="358.75" x2="70.80000000000001" stroke="#444" y2="358.75"/>
<line x1="67.9" y1="348.14" x2="70.80000000000001" stroke="#444" y2="348.14"/>
<line x1="67.9" y1="340.61" x2="70.80000000000001" stroke="#444" y2="340.61"/>
<line x1="67.9" y1="334.76" x2="70.80000000000001" stroke="#444" y2="334.76"/>
<line x1="67.9" y1="329.99" x2="70.80000000000001" stroke="#444" y2="329.99"/>
<line x1="67.9" y1="325.95" x2="70.80000000000001" stroke="#444" y2="325.95"/>
<line x1="67.9" y1="322.46" x2="70.80000000000001" stroke="#444" y2="322.46"/>
<line x1="67.9" y1="319.38" x2="70.80000000000001" stroke="#444" y2="319.38"/>
<line x1="67.9" y1="316.50" x2="73.0" y2="316.50"/>
<line x1="67.9" y1="298.47" x2="70.80000000000001" stroke="#444" y2="298.47"/>
<line x1="67.9" y1="287.85" x2="70.80000000000001" stroke="#444" y2="287.85"/>
<line x1="67.9" y1="280.32" x2="70.80000000000001" stroke="#444" y2="280.32"/>
<line x1="67.9" y1="274.48" x2="70.80000000000001" stroke="#444" y2="274.48"/>
<line x1="67.9" y1="269.71" x2="70.80000000000001" stroke="#444" y2="269.71"/>
<line x1="67.9" y1="265.67" x2="70.80000000000001" stroke="#444" y2="265.67"/>
<line x1="67.9" y1="262.18" x2="70.80000000000001" stroke="#444" y2="262.18"/>
<line x1="67.9" y1="259.09" x2="70.80000000000001" stroke="#444" y2="259.09"/>
<line x1="67.9" y1="256.50" x2="73.0" y2="256.50"/>
<line x1="67.9" y1="238.19" x2="70.80000000000001" stroke="#444" y2="238.19"/>
<line x1="67.9" y1="227.57" x2="70.80000000000001" stroke="#444" y2="227.57"/>
<line x1="67.9" y1="220.04" x2="70.80000000000001" stroke="#444" y2="220.04"/>
<line x1="67.9" y1="214.20" x2="70.80000000000001" stroke="#444" y2="214.20"/>
<line x1="67.9" y1="209.42" x2="70.80000000000001" stroke="#444" y2="209.42"/>
<line x1="67.9" y1="205.39" x2="70.80000000000001" stroke="#444" y2="205.39"/>
<line x1="67.9" y1="201.89" x2="70.80000000000001" stroke="#444" y2="201.89"/>
<line x1="67.9" y1="198.81" x2="70.80000000000001" stroke="#444" y2="198.81"/>
<line x1="67.9" y1="196.50" x2="73.0" y2="196.50"/>
<line x1="67.9" y1="177.90" x2="70.80000000000001" stroke="#444" y2="177.90"/>
<line x1="67.9" y1="167.29" x2="70.80000000000001" stroke="#444" y2="167.29"/>
<line x1="67.9" y1="159.76" x2="70.80000000000001" stroke="#444" y2="159.76"/>
<line x1="67.9" y1="153.91" x2="70.80000000000001" stroke="#444" y2="153.91"/>
<line x1="67.9" y1="149.14" x2="70.80000000000001" stroke="#444" y2="149.14"/>
<line x1="67.9" y1="145.10" x2="70.80000000000001" stroke="#444" y2="145.10"/>
<line x1="67.9" y1="141.61" x2="70.80000000000001" stroke="#444" y2="141.61"/>
<line x1="67.9" y1="138.53" x2="70.80000000000001" stroke="#444" y2="138.53"/>
<line x1="67.9" y1="135.50" x2="73.0" y2="135.50"/>
<line x1="67.9" y1="117.62" x2="70.80000000000001" stroke="#444" y2="117.62"/>
<line x1="67.9" y1="107.00" x2="70.80000000000001" stroke="#444" y2="107.00"/>
<line x1="67.9" y1="99.47" x2="70.80000000000001" stroke="#444" y2="99.47"/>
<line x1="67.9" y1="93.63" x2="70.80000000000001" stroke="#444" y2="93.63"/>
<line x1="67.9" y1="88.86" x2="70.80000000000001" stroke="#444" y2="88.86"/>
<line x1="67.9" y1="84.82" x2="70.80000000000001" stroke="#444" y2="84.82"/>
<line x1="67.9" y1="81.33" x2="70.80000000000001" stroke="#444" y2="81.33"/>
<line x1="67.9" y1="78.24" x2="70.80000000000001" stroke="#444" y2="78.24"/>
<line x1="67.9" y1="75.50" x2="73.0" y2="75.50"/>
<line x1="67.9" y1="57.34" x2="70.80000000000001" stroke="#444" y2="57.34"/>
<line x1="67.9" y1="46.72" x2="70.80000000000001" stroke="#444" y2="46.72"/>
<line x1="67.9" y1="39.19" x2="70.80000000000001" stroke="#444" y2="39.19"/>
<line x1="67.9" y1="33.35" x2="70.80000000000001" stroke="#444" y2="33.35"/>
<line x1="67.9" y1="28.57" x2="70.80000000000001" stroke="#444" y2="28.57"/>
<line x1="67.9" y1="24.54" x2="70.80000000000001" stroke="#444" y2="24.54"/>
<line x1="67.9" y1="21.04" x2="70.80000000000001" stroke="#444" y2="21.04"/>
<line x1="67.9" y1="17.96" x2="70.80000000000001" stroke="#444" y2="17.96"/>
<line x1="67.9" y1="15.50" x2="70.9" y2="15.50"/>
<line x1="183.43" y1="376.9" x2="183.43" y2="371.9" stroke-width="1.35"/>
<line x1="298.95" y1="376.9" x2="298.95" y2="371.9" stroke-width="1.35"/>
<line x1="414.48" y1="376.9" x2="414.48" y2="371.9" stroke-width="1.35"/>
<line x1="530.00" y1="376.9" x2="530.00" y2="371.9" stroke-width="1.35"/>
</g>
<g font-size="16.3px" text-anchor="middle">
<text x="67.95" y="401.1">0</text>
<text x="182.60" y="401.1">50</text>
<text x="299.80" y="401.1">100</text>
<text x="414.40" y="401.1">150</text>
<text x="529.90" y="401.1">200</text>
</g>
<g font-size="16px">
<text x="34.8" y="85.9" font-size="16.3px">10<tspan font-size="13.6px" dy="-8.4">4</tspan></text>
<text x="34.8" y="206.4" font-size="16.3px">10<tspan font-size="13.6px" dy="-8.4">2</tspan></text>
<text x="34.8" y="327.0" font-size="16.3px">10<tspan font-size="13.6px" dy="-8.4">0</tspan></text>
</g>
<text x="298.9" y="425.7" font-size="18.75px" text-anchor="middle">number of access points</text>
<text transform="translate(24.8,196.1) rotate(-90)" font-size="18.8px" text-anchor="middle">horizontal error (m)</text>
<rect x="400.5" y="27.5" width="118" height="65.7" fill="#fff" stroke="#222" stroke-width="1.1"/>
<circle cx="425.5" cy="39.6" r="2.55" fill="#ff0000"/>
<text x="450.4" y="45.25" font-size="15.2px">rural</text>
<circle cx="425.5" cy="60.4" r="2.55" fill="#0000ff"/>
<text x="450.4" y="65.8" font-size="15.2px">suburban</text>
<circle cx="425.5" cy="81.1" r="2.55" fill="#00ff00"/>
<text x="450.4" y="86.6" font-size="15.2px">urban</text>
</svg></body></html>
